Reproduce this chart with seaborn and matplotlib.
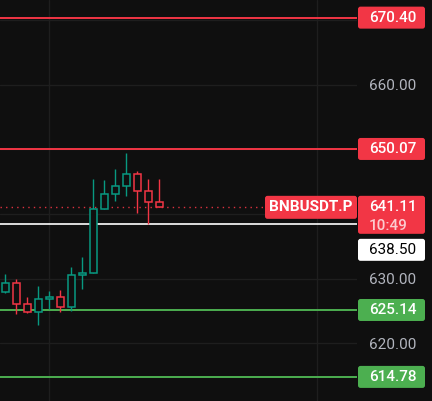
import matplotlib
matplotlib.use("Agg")
import matplotlib.pyplot as plt
from matplotlib.patches import FancyBboxPatch
import seaborn as sns
import numpy as np

# ---- data ----
opens  = [627.88, 629.27, 626.02, 624.78, 626.80, 627.11, 625.56, 630.51, 630.82, 640.73, 643.05, 644.29, 646.15, 643.52, 641.81]
closes = [629.27, 626.02, 624.78, 626.80, 627.11, 625.56, 630.51, 630.82, 640.73, 643.05, 644.29, 646.15, 643.52, 641.81, 641.11]
highs  = [630.71, 629.94, 627.15, 628.85, 628.08, 628.24, 631.80, 633.34, 645.42, 645.26, 646.97, 649.39, 646.66, 645.42, 645.42]
lows   = [627.72, 624.57, 624.70, 622.87, 625.25, 624.88, 625.03, 628.44, 630.82, 640.70, 642.06, 642.84, 640.10, 638.45, 641.04]
resistances = [670.40, 650.07]
supports = [625.14, 614.78]
white_level = 638.50
last_price = 641.11
countdown = "10:49"
symbol = "BNBUSDT.P"
price_ticks = [620, 630, 640, 650, 660, 670]
tick_labels = ["620.00", "630.00", "", "", "660.00", ""]

BG = "#0f0f0f"
GRID = "#1e1e1e"
RED = "#f23645"
GREEN_C = "#089981"
GREEN_L = "#4caf50"
TXT = "#b2b5be"

sns.set_theme(style="dark", rc={"axes.facecolor": BG, "figure.facecolor": BG})
plt.rcParams["font.family"] = ["Roboto", "DejaVu Sans"]

W, H = 432, 401
fig = plt.figure(figsize=(W / 100, H / 100), dpi=100)
PLOT_W = 357
ax = fig.add_axes([0, 0, PLOT_W / W, 1])
ax.set_facecolor(BG)
for s in ax.spines.values():
    s.set_visible(False)

x = np.arange(len(opens))
ax.set_xlim(-0.48, 31.97)
ax.set_ylim(611.05, 673.13)

# grid
ax.set_yticks(price_ticks)
ax.set_xticks([4, 28.33])
ax.grid(True, color=GRID, linewidth=1.0)
ax.tick_params(length=0, labelbottom=False, labelleft=False, labelright=True,
               right=False, left=False, pad=8.6, labelcolor=TXT, labelsize=11)
ax.yaxis.set_ticks_position("right")
ax.set_yticklabels(tick_labels)
for lab in ax.get_yticklabels():
    lab.set_horizontalalignment("left")

# candles
colors = [GREEN_C if c >= o else RED for o, c in zip(opens, closes)]
ax.vlines(x, lows, highs, colors=colors, linewidth=1.0, zorder=3)
bottoms = [min(o, c) for o, c in zip(opens, closes)]
heights = [max(abs(c - o), 0.12) for o, c in zip(opens, closes)]
ax.bar(x, heights, bottom=bottoms, width=0.64, facecolor=BG, edgecolor=colors,
       linewidth=1.1, zorder=4)

# levels
for r in resistances:
    ax.axhline(r, color=RED, linewidth=1.4, zorder=2)
for s_ in supports:
    ax.axhline(s_, color=GREEN_L, linewidth=1.4, zorder=2)
ax.axhline(white_level, color="white", linewidth=1.2, zorder=2)
ax.axhline(last_price, color=RED, linewidth=1.0, linestyle=(0, (1, 3)), zorder=2, alpha=0.9)

# ---- price-scale labels on a pixel overlay ----
fig.canvas.draw()
ov = fig.add_axes([0, 0, 1, 1])
ov.set_xlim(0, W)
ov.set_ylim(H, 0)
ov.axis("off")
ov.patch.set_alpha(0)


def ypix(price):
    return H - ax.transData.transform((0, price))[1]


def box(x0, y0, w, h, color):
    ov.add_patch(FancyBboxPatch((x0 + 2, y0 + 2), w - 4, h - 4,
                                boxstyle="round,pad=2,rounding_size=2.5",
                                facecolor=color, edgecolor="none", zorder=5))


BX, BW, BH = 358, 67, 22
TX = 369
for val, col in [(resistances[0], RED), (resistances[1], RED),
                 (supports[0], GREEN_L), (supports[1], GREEN_L)]:
    yc = ypix(val)
    box(BX, yc - BH / 2, BW, BH, col)
    ov.text(TX, yc + 0.5, f"{val:.2f}", color="white", fontsize=11, fontweight="medium",
            ha="left", va="center", zorder=6)

# last price box with countdown
yc = ypix(last_price)
top = yc - 11
box(BX, top, BW, 38, RED)
ov.text(TX, yc + 0.5, f"{last_price:.2f}", color="white", fontsize=11, fontweight="medium",
        ha="left", va="center", zorder=6)
ov.text(TX, yc + 19.5, countdown, color="#ffffff", alpha=0.75, fontsize=11, fontweight="medium",
        ha="left", va="center", zorder=6)
# symbol box
box(265, top, 92, 23, RED)
ov.text(311, yc + 0.5, symbol, color="white", fontsize=11, fontweight="bold",
        ha="center", va="center", zorder=6)
# white level box placed below last price box
wtop = top + 38 + 5
box(BX, wtop, BW, 22, "white")
ov.text(TX, wtop + 11.5, f"{white_level:.2f}", color="black", fontsize=11,
        ha="left", va="center", zorder=6)

fig.savefig("out.png", dpi=100, facecolor=BG)
